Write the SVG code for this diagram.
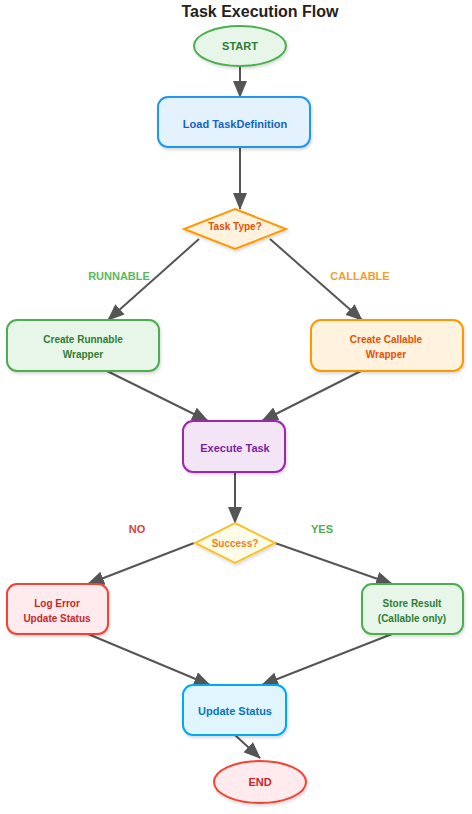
<svg xmlns="http://www.w3.org/2000/svg" width="472" height="814" viewBox="0 0 472 814">
<style>
text{font-family:"Liberation Sans",Arial,sans-serif;font-weight:bold;text-anchor:middle}
.t{font-size:11px}
.title{font-size:16px;fill:#222}
.lbl{font-size:11px}
.c{stroke:#555;stroke-width:2;fill:none;marker-end:url(#ah)}
.n{stroke-width:2;filter:url(#sh)}
.green{fill:#e8f5e9;stroke:#4caf50}
.blue{fill:#e3f2fd;stroke:#2196f3}
.orange{fill:#fff3e0;stroke:#ff9800}
.purple{fill:#f3e5f5;stroke:#9c27b0}
.yellow{fill:#fffde7;stroke:#fbc02d}
.red{fill:#ffebee;stroke:#f44336}
.cyan{fill:#e1f5fe;stroke:#03a9f4}
</style>
<defs>
<marker id="ah" markerWidth="17" markerHeight="14" refX="16" refY="7" orient="auto" markerUnits="userSpaceOnUse">
<path d="M0,0 L17,7 L0,14 Z" fill="#555"/>
</marker>
<filter id="sh" x="-20%" y="-20%" width="140%" height="150%">
<feDropShadow dx="1" dy="2" stdDeviation="1.5" flood-color="#000" flood-opacity="0.15"/>
</filter>
</defs>
<rect width="472" height="814" fill="#fff"/>
<text class="title" x="260" y="17">Task Execution Flow</text>
<g id="connectors">
<line class="c" x1="240" y1="67" x2="240" y2="97"/>
<line class="c" x1="240" y1="147" x2="240" y2="209"/>
<line class="c" x1="199" y1="239" x2="108" y2="320"/>
<line class="c" x1="270" y1="239" x2="362" y2="320"/>
<line class="c" x1="107" y1="371" x2="208" y2="421"/>
<line class="c" x1="361" y1="371" x2="262" y2="421"/>
<line class="c" x1="235" y1="472" x2="235" y2="523"/>
<line class="c" x1="194" y1="543" x2="88" y2="584"/>
<line class="c" x1="275" y1="543" x2="392" y2="584"/>
<line class="c" x1="88" y1="634" x2="210" y2="685"/>
<line class="c" x1="392" y1="634" x2="262" y2="685"/>
<line class="c" x1="235" y1="735" x2="260" y2="758"/>
<text class="lbl" x="119" y="280" fill="#5cb85c">RUNNABLE</text>
<text class="lbl" x="360" y="280" fill="#f0a030">CALLABLE</text>
<text class="lbl" x="137" y="533" fill="#e04040">NO</text>
<text class="lbl" x="322" y="533" fill="#4caf50">YES</text>
</g>
<g id="start">
<ellipse class="n green" cx="240" cy="46" rx="46" ry="20"/>
<text class="t" x="240" y="50" fill="#2e7d32">START</text>
</g>
<g id="load">
<rect class="n blue" x="158" y="97" width="152" height="50" rx="10"/>
<text class="t" x="235" y="128" fill="#1565c0">Load TaskDefinition</text>
</g>
<g id="tasktype">
<polygon class="n orange" points="235,209 286,229 235,249 184,229"/>
<text class="t" x="235" y="230" fill="#e65100" style="font-size:10px">Task Type?</text>
</g>
<g id="runnable">
<rect class="n green" x="7" y="320" width="152" height="51" rx="10"/>
<text class="t" x="83" y="343" fill="#2e7d32" style="font-size:10px">Create Runnable</text>
<text class="t" x="83" y="358" fill="#2e7d32" style="font-size:10px">Wrapper</text>
</g>
<g id="callable">
<rect class="n orange" x="311" y="320" width="152" height="51" rx="10"/>
<text class="t" x="386" y="343" fill="#e65100" style="font-size:10px">Create Callable</text>
<text class="t" x="386" y="358" fill="#e65100" style="font-size:10px">Wrapper</text>
</g>
<g id="execute">
<rect class="n purple" x="183" y="421" width="102" height="51" rx="10"/>
<text class="t" x="235" y="452" fill="#7b1fa2">Execute Task</text>
</g>
<g id="success">
<polygon class="n yellow" points="235,523 275,543 235,563 195,543"/>
<text class="t" x="235" y="547" fill="#f08020" style="font-size:10px">Success?</text>
</g>
<g id="logerror">
<rect class="n red" x="7" y="584" width="101" height="50" rx="10"/>
<text class="t" x="57" y="607" fill="#c62828" style="font-size:10px">Log Error</text>
<text class="t" x="57" y="622" fill="#c62828" style="font-size:10px">Update Status</text>
</g>
<g id="store">
<rect class="n green" x="362" y="584" width="101" height="50" rx="10"/>
<text class="t" x="412" y="607" fill="#2e7d32" style="font-size:10px">Store Result</text>
<text class="t" x="412" y="622" fill="#2e7d32" style="font-size:10px">(Callable only)</text>
</g>
<g id="update">
<rect class="n cyan" x="183" y="685" width="103" height="50" rx="10"/>
<text class="t" x="235" y="715" fill="#0277bd">Update Status</text>
</g>
<g id="end">
<ellipse class="n red" cx="260" cy="782" rx="46" ry="21"/>
<text class="t" x="260" y="786" fill="#c62828">END</text>
</g>
</svg>
